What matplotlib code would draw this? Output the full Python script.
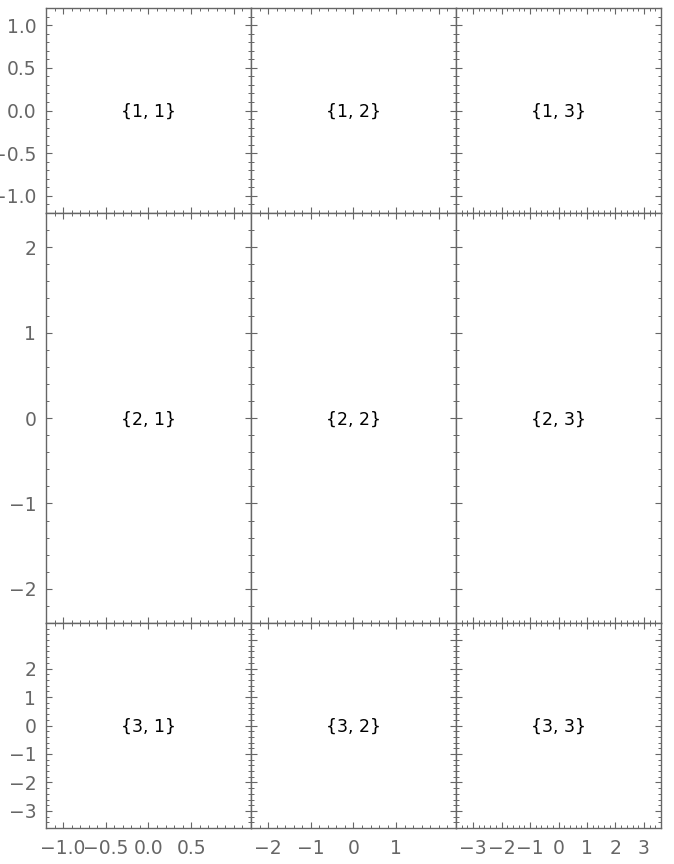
import matplotlib
matplotlib.use("Agg")
from matplotlib import pyplot as plt
from matplotlib.ticker import MultipleLocator, FixedLocator, FixedFormatter

# panel limits (symmetric), per column (x) and per row (y)
col_lims = [1.2, 2.4, 3.6]
row_lims = [1.2, 2.4, 3.6]
col_major = [0.5, 1.0, 1.0]
col_minor = [0.1, 0.2, 0.2]
row_major = [0.5, 1.0, 1.0]
row_minor = [0.1, 0.2, 0.2]
row_heights = [1, 2, 1]

# labels that show on the outer axes
x_tick_vals = [[-1.0, -0.5, 0.0, 0.5], [-2, -1, 0, 1], [-3, -2, -1, 0, 1, 2, 3]]
x_tick_text = [['−1.0', '−0.5', '0.0', '0.5'], ['−2', '−1', '0', '1'],
               ['−3', '−2', '−1', '0', '1', '2', '3']]
y_tick_vals = [[-1.0, -0.5, 0.0, 0.5, 1.0], [-2, -1, 0, 1, 2], [-3, -2, -1, 0, 1, 2]]
y_tick_text = [['−1.0', '−0.5', '0.0', '0.5', '1.0'], ['−2', '−1', '0', '1', '2'],
               ['−3', '−2', '−1', '0', '1', '2']]

W, H = 674, 864
frame = '#666666'

fig = plt.figure(figsize=(W / 100, H / 100), dpi=100)
gs = fig.add_gridspec(3, 3, height_ratios=row_heights, wspace=0, hspace=0,
                      left=46 / W, right=661 / W, top=1 - 8 / H, bottom=1 - 828 / H)

for r in range(3):
    for c in range(3):
        ax = fig.add_subplot(gs[r, c])
        ax.set_xlim(-col_lims[c], col_lims[c])
        ax.set_ylim(-row_lims[r], row_lims[r])
        for s in ax.spines.values():
            s.set_color(frame)
            s.set_linewidth(1.0)
        ax.xaxis.set_major_locator(MultipleLocator(col_major[c]))
        ax.xaxis.set_minor_locator(MultipleLocator(col_minor[c]))
        ax.yaxis.set_major_locator(MultipleLocator(row_major[r]))
        ax.yaxis.set_minor_locator(MultipleLocator(row_minor[r]))
        ax.tick_params(which='both', direction='in', top=True, right=True,
                       color=frame, labelcolor='#666666', labelsize=13.5)
        ax.tick_params(which='major', length=4, width=0.8)
        ax.tick_params(which='minor', length=2.2, width=0.7)
        if r == 2:
            ax.xaxis.set_major_locator(FixedLocator(x_tick_vals[c]))
            ax.xaxis.set_major_formatter(FixedFormatter(x_tick_text[c]))
            ax.tick_params(axis='x', pad=8)
        else:
            ax.set_xticklabels([])
        if c == 0:
            ax.yaxis.set_major_locator(FixedLocator(y_tick_vals[r]))
            ax.yaxis.set_major_formatter(FixedFormatter(y_tick_text[r]))
            ax.tick_params(axis='y', pad=7)
        else:
            ax.set_yticklabels([])
        ax.text(0, -0.015 * row_lims[r] / 1.2 * (1 if r != 1 else 0.5),
                '{%d, %d}' % (r + 1, c + 1), ha='center', va='center',
                fontsize=12.5, color='black')

fig.savefig('out.png', dpi=100)
